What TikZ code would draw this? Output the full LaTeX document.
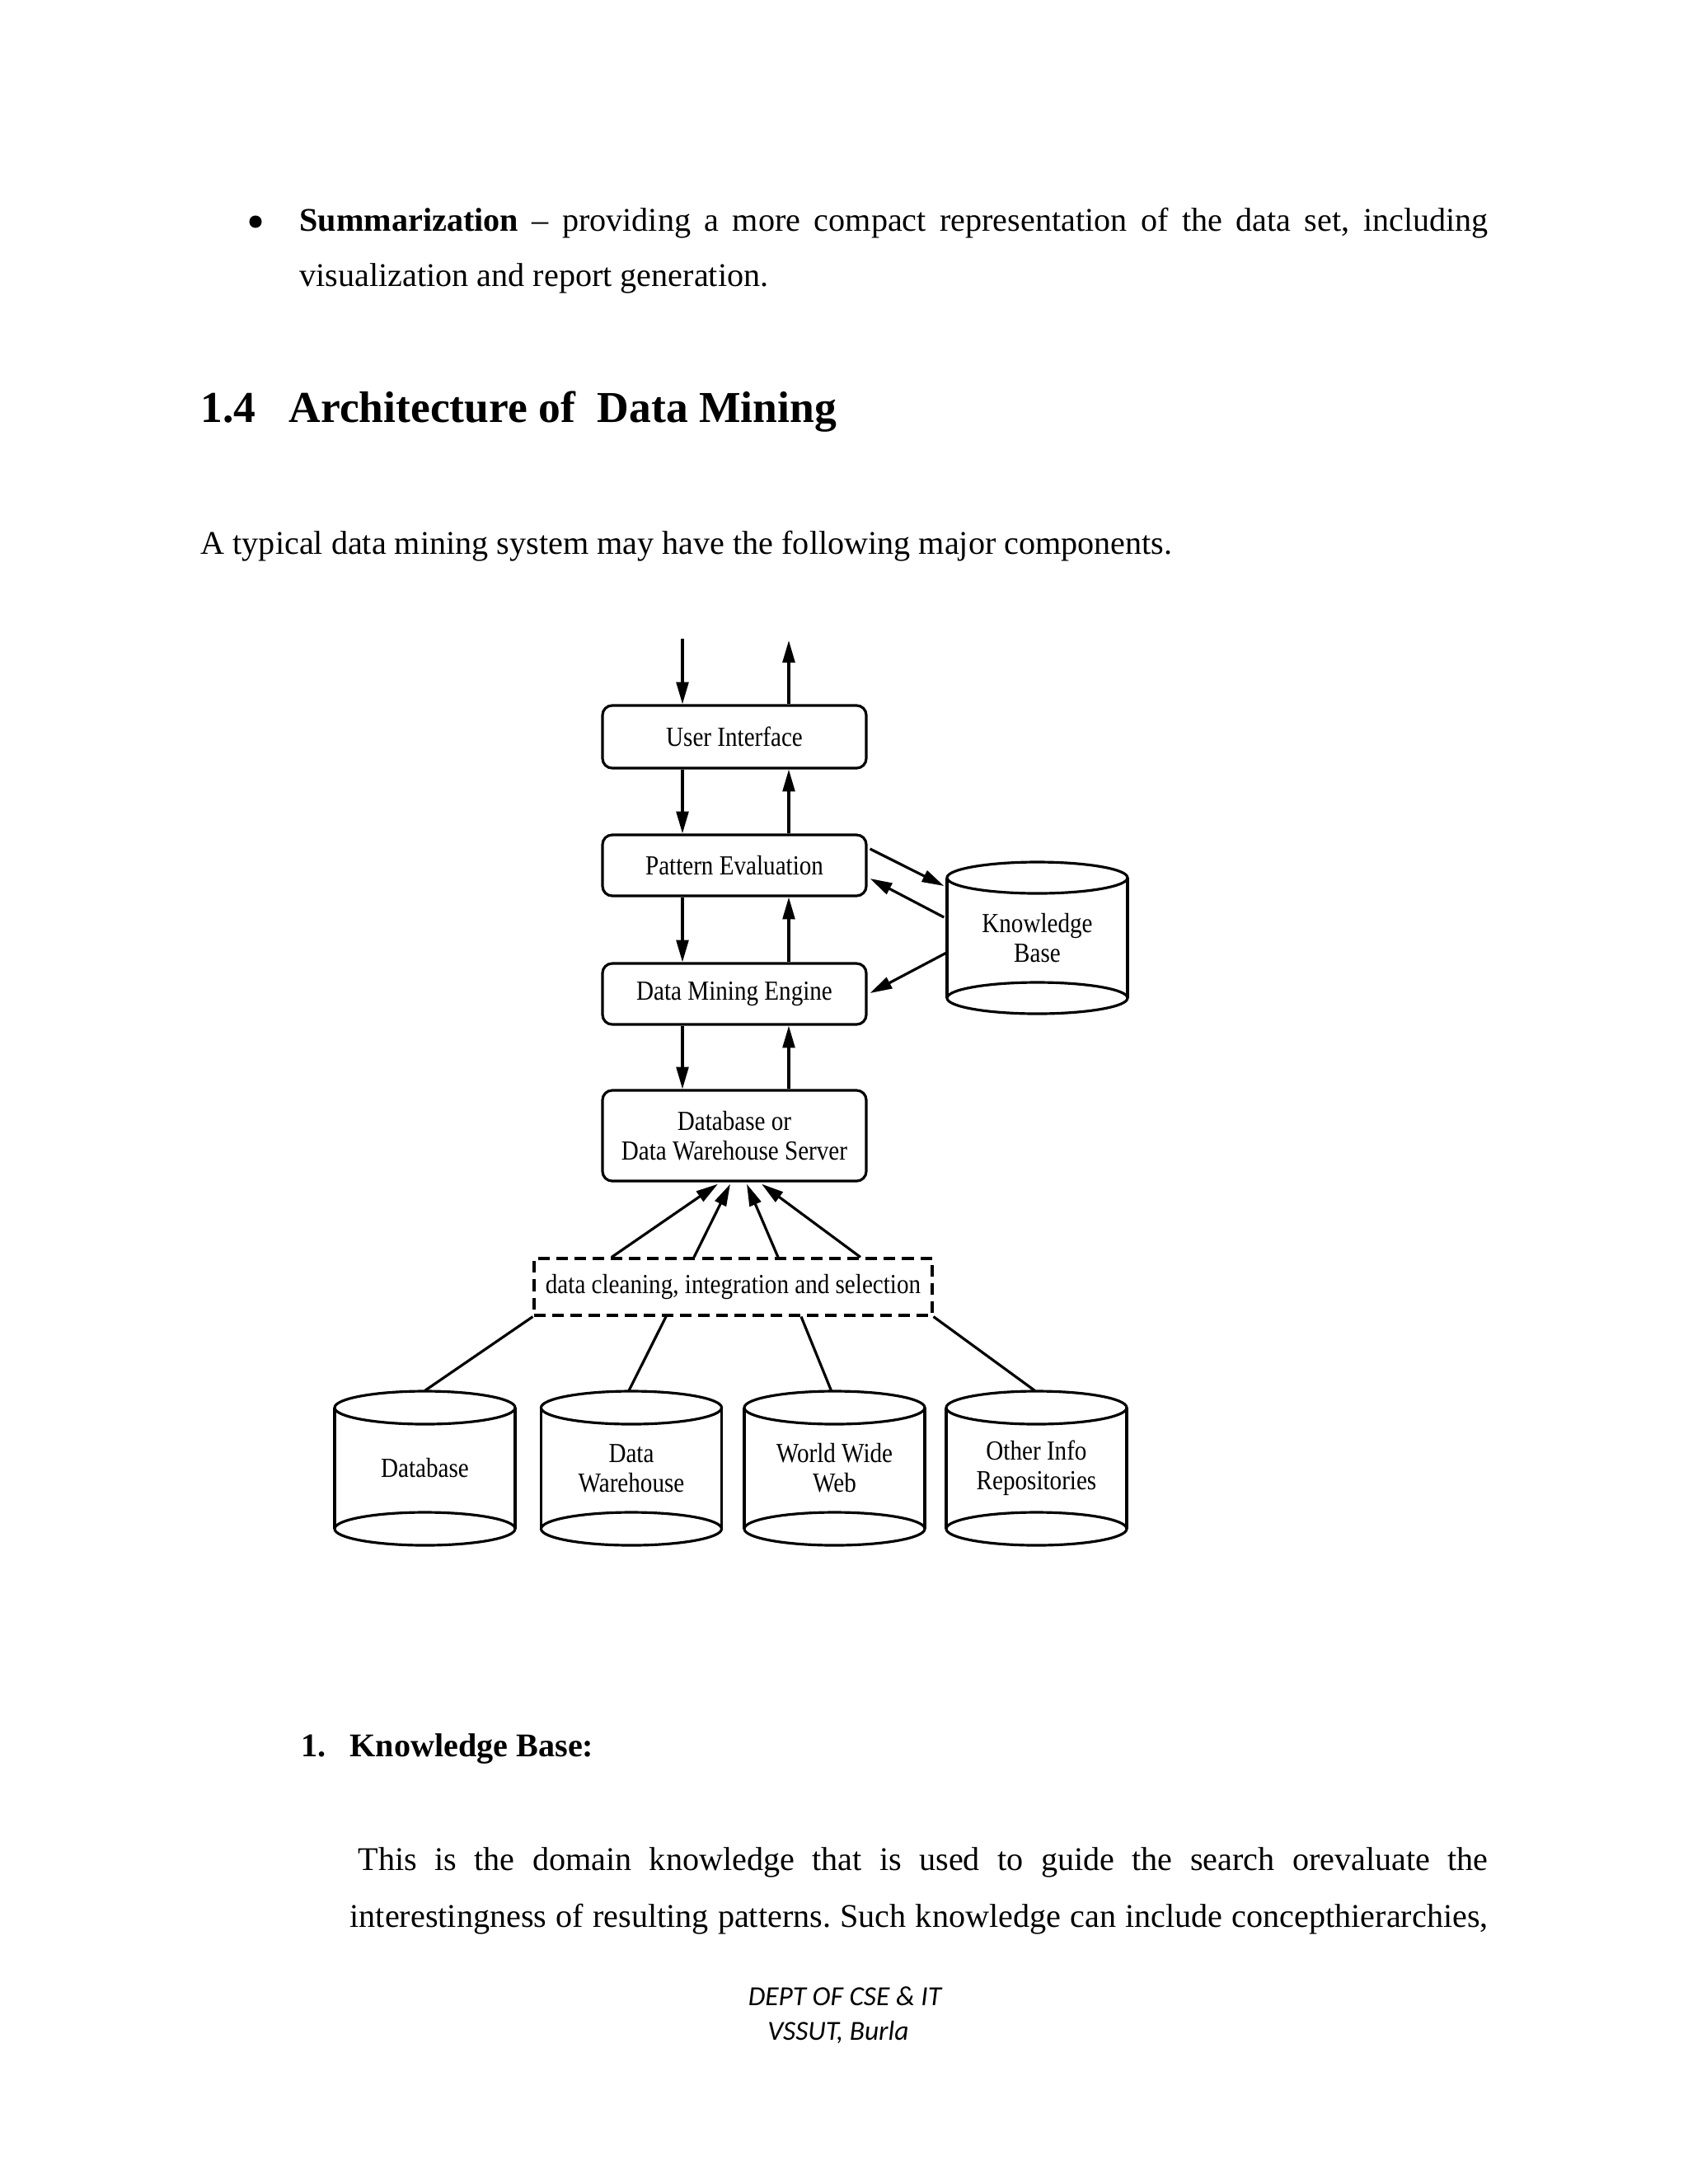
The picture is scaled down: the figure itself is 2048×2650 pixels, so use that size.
\documentclass[tikz,border=0pt]{standalone}
\usepackage{fontspec}
\setmainfont{Liberation Serif}
\newfontfamily\diagfont[FakeStretch=0.87]{Liberation Serif}
\newfontfamily\footfont{Carlito}
\usetikzlibrary{arrows.meta,calc}
\frenchspacing
\tikzset{
  lw/.style={line width=0.95pt},
  boxnode/.style={draw, lw, rounded corners=3.5pt, minimum width=95.63pt, inner sep=0pt, align=center, font={\diagfont\fontsize{10}{10.8}\selectfont}},
  dashnode/.style={draw, lw, dash pattern=on 4.2pt off 2.4pt, minimum width=144.3pt, minimum height=20.6pt, inner sep=0pt, font={\diagfont\fontsize{10}{10.8}\selectfont}},
  cyltext/.style={inner sep=0pt, minimum width=65.44pt, align=center, font={\diagfont\fontsize{10}{10.8}\selectfont}},
  arr/.style={lw, -{Triangle[length=8pt,width=4.4pt]}},
  txt/.style={anchor=base west, inner sep=0pt, font={\fontsize{12}{14}\selectfont}},
  btxt/.style={txt, font={\fontsize{12}{14}\selectfont\bfseries}},
  htxt/.style={txt, font={\fontsize{16}{19}\selectfont\bfseries}},
  bulletdot/.style={circle, fill, inner sep=0pt, minimum size=4.5pt},
  foottxt/.style={anchor=base, inner sep=0pt, font={\footfont\itshape\fontsize{10}{12}\selectfont}}
}
% name, cx, top-ellipse cy, bottom-ellipse cy, ry, text
\newcommand\mycyl[6]{%
  \node[cyltext, minimum height={(#4-#3+2*#5)*0.29883pt}] (#1) at (#2,{(#3+#4)/2}) {#6};
  \draw[lw] (#2-109.5,#3) -- (#2-109.5,#4) (#2+109.5,#3) -- (#2+109.5,#4);
  \draw[lw] (#2,#3) ellipse [x radius=109.5, y radius=#5];
  \draw[lw] (#2,#4) ellipse [x radius=109.5, y radius=#5];
}
\begin{document}
\begin{tikzpicture}[x=0.29883pt,y=-0.29883pt]
\useasboundingbox (0,0) rectangle (2048,2650);

% ---- text above ----
\node[bulletdot] (bul) at (310,269) {};
\node[txt] (s1) at (363,280) {\makebox[430.9pt][s]{\textbf{Summarization} – providing a more compact representation of the data set, including}};
\node[txt] (s2) at (363,347) {visualization and report generation.};
\node[htxt] (hnum) at (243,512) {1.4};
\node[htxt] (htitle) at (350,512) {Architecture of \ Data Mining};
\node[txt] (intro) at (243,672) {A typical data mining system may have the following major components.};

% ---- diagram ----
\node[boxnode, minimum height=22.71pt] (ui) at (891,894) {User Interface};
\node[boxnode, minimum height=22.1pt] (pe) at (891,1050) {Pattern Evaluation};
\node[boxnode, minimum height=22.1pt] (dme) at (891,1206) {Data Mining Engine};
\node[boxnode, minimum height=32.87pt] (srv) at (891,1378) {Database or\\Data Warehouse Server};

\mycyl{kb}{1258.5}{1065}{1211}{19}{Knowledge\\Base}

\node[dashnode] (dc) at (889.5,1561.5) {data cleaning, integration and selection};

\mycyl{db}{515.5}{1708}{1855}{20}{Database}
\mycyl{dw}{766}{1708}{1855}{20}{Data\\Warehouse}
\mycyl{www}{1012.5}{1708}{1855}{20}{World Wide\\Web}
\mycyl{oth}{1257.5}{1708}{1855}{20}{Other Info\\Repositories}

\coordinate (L) at (828,0);
\coordinate (R) at (957,0);
\coordinate (inp) at (828,775);
\coordinate (outp) at (957,777);

\draw[arr] (inp) -- (ui.north -| L);
\draw[arr] (ui.north -| R) -- (outp);
\draw[arr] (ui.south -| L) -- (pe.north -| L);
\draw[arr] (pe.north -| R) -- (ui.south -| R);
\draw[arr] (pe.south -| L) -- (dme.north -| L);
\draw[arr] (dme.north -| R) -- (pe.south -| R);
\draw[arr] (dme.south -| L) -- (srv.north -| L);
\draw[arr] (srv.north -| R) -- (dme.south -| R);

\draw[arr] ($(pe.east)+(3,-20)$) -- ($(kb.west)+(-3,-63)$);
\draw[arr] ($(kb.west)+(-3,-25)$) -- ($(pe.east)+(3,16)$);
\draw[arr] ($(kb.west)+(0,18)$) -- ($(dme.east)+(3,-1)$);

\draw[arr] ($(dc.north)+(-147.5,0)$) -- ($(srv.south)+(-20,2)$);
\draw[arr] ($(dc.north)+(-47.5,0)$) -- ($(srv.south)+(-5,2)$);
\draw[arr] ($(dc.north)+(54.5,0)$) -- ($(srv.south)+(15,2)$);
\draw[arr] ($(dc.north)+(154.5,0)$) -- ($(srv.south)+(33,2)$);

\draw[lw] (dc.south west) -- (db.north);
\draw[lw] ($(dc.south)+(-81.5,0)$) -- ($(dw.north)+(-3,0)$);
\draw[lw] ($(dc.south)+(82.5,0)$) -- ($(www.north)+(-4,0)$);
\draw[lw] (dc.south east) -- ($(oth.north)+(-2,0)$);

% ---- text below ----
\node[btxt] (k1) at (365,2131) {1.};
\node[btxt] (k2) at (424,2131) {Knowledge Base:};
\node[txt] (p1) at (434,2269) {\makebox[409.7pt][s]{This is the domain knowledge that is used to guide the search orevaluate the}};
\node[txt] (p2) at (424,2338) {\makebox[412.7pt][s]{interestingness of resulting patterns. Such knowledge can include concepthierarchies,}};

\node[foottxt] (f1) at (1025,2433) {DEPT OF CSE \& IT};
\node[foottxt] (f2) at (1017,2475) {VSSUT, Burla};
\end{tikzpicture}
\end{document}
